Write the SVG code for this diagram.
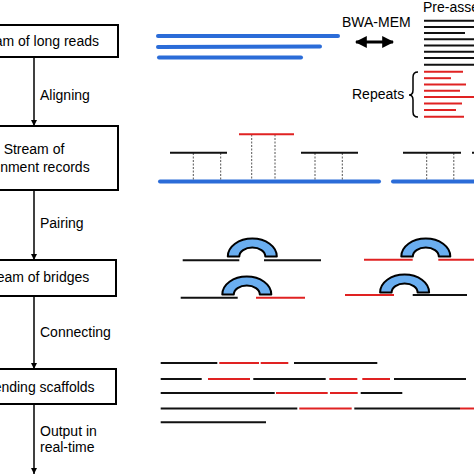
<svg xmlns="http://www.w3.org/2000/svg" width="474" height="474" viewBox="0 0 474 474">
<defs>
<style>
.box{fill:#fff;stroke:#000;stroke-width:2}
.lbl{font-family:"Liberation Sans",Arial,sans-serif;font-size:14px;fill:#000}
.flow{stroke:#000;stroke-width:1.5;fill:none}
.read{stroke:#2b6cd8;stroke-width:4;stroke-linecap:round;fill:none}
.blk{stroke:#111;stroke-width:2;fill:none}
.red{stroke:#e02222;stroke-width:2;fill:none}
.dash{stroke:#555;stroke-width:1;stroke-dasharray:2 1.5;fill:none}
.bridge{fill:#6aaef0;stroke:#000;stroke-width:2;stroke-linejoin:round}
</style>
<marker id="ah" viewBox="0 0 10 10" refX="10" refY="5" markerWidth="6" markerHeight="6" orient="auto" markerUnits="userSpaceOnUse">
<path d="M0,0 L10,5 L0,10 Z" fill="#000"/>
</marker>
<marker id="bh" viewBox="0 0 10 10" refX="9" refY="5" markerWidth="4" markerHeight="4" orient="auto-start-reverse">
<path d="M0,0 L10,5 L0,10 Z" fill="#000"/>
</marker>
</defs>
<rect width="474" height="474" fill="#fff"/>

<g id="connectors">
<line class="flow" x1="34" y1="57" x2="34" y2="126" marker-end="url(#ah)"/>
<line class="flow" x1="34" y1="190" x2="34" y2="260" marker-end="url(#ah)"/>
<line class="flow" x1="34" y1="296" x2="34" y2="369" marker-end="url(#ah)"/>
<line class="flow" x1="34" y1="404" x2="34" y2="474" marker-end="url(#ah)"/>
<text class="lbl" x="40" y="100">Aligning</text>
<text class="lbl" x="40" y="228">Pairing</text>
<text class="lbl" x="40" y="337">Connecting</text>
<text class="lbl" x="40" y="436">Output in</text>
<text class="lbl" x="40" y="452">real-time</text>
</g>

<g id="node-long-reads">
<rect class="box" x="-60" y="25" width="178" height="32"/>
<text class="lbl" x="34" y="46" text-anchor="middle">Stream of long reads</text>
</g>
<g id="node-alignment-records">
<rect class="box" x="-60" y="126" width="178" height="64"/>
<text class="lbl" x="34" y="154" text-anchor="middle">Stream of</text>
<text class="lbl" x="34" y="172" text-anchor="middle">alignment records</text>
</g>
<g id="node-bridges">
<rect class="box" x="-60" y="260" width="176" height="36"/>
<text class="lbl" x="34" y="282" text-anchor="middle">Stream of bridges</text>
</g>
<g id="node-scaffolds">
<rect class="box" x="-60" y="369" width="176" height="35"/>
<text class="lbl" x="34" y="392" text-anchor="middle">Extending scaffolds</text>
</g>

<g id="reads">
<line class="read" x1="158" y1="36" x2="338" y2="36"/>
<line class="read" x1="158" y1="47" x2="320" y2="46.5"/>
<line class="read" x1="159" y1="57.5" x2="301" y2="57.5"/>
</g>

<g id="bwa">
<text class="lbl" x="342" y="27">BWA-MEM</text>
<line x1="356" y1="42" x2="393" y2="42" stroke="#000" stroke-width="3" marker-start="url(#bh)" marker-end="url(#bh)"/>
</g>

<g id="pre-assembled">
<text class="lbl" x="423" y="12">Pre-assembled</text>
<line class="blk" x1="424" y1="20.7" x2="474" y2="20.7"/>
<line class="blk" x1="424" y1="26.9" x2="474" y2="26.9"/>
<line class="blk" x1="424" y1="33.1" x2="465" y2="33.1"/>
<line class="blk" x1="424" y1="39.3" x2="474" y2="39.3"/>
<line class="blk" x1="424" y1="45.5" x2="474" y2="45.5"/>
<line class="blk" x1="424" y1="51.7" x2="474" y2="51.7"/>
<line class="blk" x1="424" y1="57.9" x2="474" y2="57.9"/>
<line class="blk" x1="424" y1="64.8" x2="474" y2="64.8"/>
<line class="red" x1="424" y1="71.7" x2="463" y2="71.7"/>
<line class="red" x1="424" y1="78.2" x2="451" y2="78.2"/>
<line class="red" x1="424" y1="84.5" x2="466" y2="84.5"/>
<line class="red" x1="424" y1="90.8" x2="460" y2="90.8"/>
<line class="red" x1="424" y1="97.1" x2="474" y2="97.1"/>
<line class="red" x1="424" y1="103.4" x2="462" y2="103.4"/>
<line class="red" x1="424" y1="110" x2="456" y2="110"/>
<line class="red" x1="424" y1="116.7" x2="464" y2="116.7"/>
<text class="lbl" x="352" y="99">Repeats</text>
<path d="M418,72 Q413,72 413,77 L413,90 Q413,95 409,95 Q413,95 413,100 L413,112 Q413,117 418,117" fill="none" stroke="#000" stroke-width="1.5"/>
</g>

<g id="alignments">
<line class="read" x1="160" y1="181.5" x2="379" y2="181.5"/>
<line class="read" x1="393" y1="181.5" x2="480" y2="181.5"/>
<line class="dash" x1="193.3" y1="153" x2="193.3" y2="180"/>
<line class="dash" x1="220.7" y1="153" x2="220.7" y2="180"/>
<line class="dash" x1="251.7" y1="134.5" x2="251.7" y2="180"/>
<line class="dash" x1="275" y1="134.5" x2="275" y2="180"/>
<line class="dash" x1="315" y1="153" x2="315" y2="180"/>
<line class="dash" x1="342.3" y1="153" x2="342.3" y2="180"/>
<line class="dash" x1="426.7" y1="153" x2="426.7" y2="180"/>
<line class="dash" x1="453.8" y1="153" x2="453.8" y2="180"/>
<line class="blk" x1="170" y1="152.7" x2="227" y2="152.7"/>
<line class="red" x1="239" y1="134.3" x2="294" y2="134.3"/>
<line class="blk" x1="301" y1="152.7" x2="358" y2="152.7"/>
<line class="blk" x1="403" y1="152.7" x2="461" y2="152.7"/>
<line class="blk" x1="472" y1="152.7" x2="476" y2="152.7"/>
</g>

<g id="bridges">
<line class="blk" x1="182.7" y1="260.3" x2="239.3" y2="260.3"/>
<line class="blk" x1="264" y1="260.3" x2="321" y2="260.3"/>
<line class="blk" x1="180.7" y1="297.7" x2="237.7" y2="297.7"/>
<line class="red" x1="256" y1="297.7" x2="305" y2="297.7"/>
<line class="red" x1="364" y1="259.7" x2="412.7" y2="259.7"/>
<line class="red" x1="438.3" y1="259.7" x2="476" y2="259.7"/>
<line class="red" x1="345" y1="295" x2="394" y2="295"/>
<line class="blk" x1="412.7" y1="295" x2="467" y2="295"/>
<path class="bridge" d="M227.8,256.5 A24.5,18 0 0 1 276.8,256.5 L265.3,256.5 A13,9 0 0 0 239.3,256.5 Z"/>
<path class="bridge" d="M222.3,294.5 A24.5,18 0 0 1 271.3,294.5 L259.8,294.5 A13,9 0 0 0 233.8,294.5 Z"/>
<path class="bridge" d="M401.3,256.5 A24.5,18 0 0 1 450.3,256.5 L438.8,256.5 A13,9 0 0 0 412.8,256.5 Z"/>
<path class="bridge" d="M380.1,292.5 A24.5,18 0 0 1 429.1,292.5 L417.6,292.5 A13,9 0 0 0 391.6,292.5 Z"/>
</g>

<g id="scaffolds">
<line class="blk" x1="160.7" y1="363" x2="217.3" y2="363"/>
<line class="red" x1="219.3" y1="363" x2="259" y2="363"/>
<line class="red" x1="260.7" y1="363" x2="288.3" y2="363"/>
<line class="blk" x1="294" y1="363" x2="377.3" y2="363"/>
<line class="blk" x1="160.7" y1="379" x2="201.7" y2="379"/>
<line class="red" x1="208" y1="379" x2="250" y2="379"/>
<line class="blk" x1="253.3" y1="379" x2="325.7" y2="379"/>
<line class="red" x1="329.3" y1="379" x2="357.3" y2="379"/>
<line class="red" x1="362.3" y1="379" x2="390" y2="379"/>
<line class="blk" x1="394" y1="379" x2="466" y2="379"/>
<line class="blk" x1="160.7" y1="393" x2="274.7" y2="393"/>
<line class="red" x1="276" y1="393" x2="327.7" y2="393"/>
<line class="red" x1="330" y1="393" x2="357.7" y2="393"/>
<line class="blk" x1="360.7" y1="393" x2="402.3" y2="393"/>
<line class="blk" x1="160.7" y1="408.5" x2="297.3" y2="408.5"/>
<line class="red" x1="299.3" y1="408.5" x2="351.7" y2="408.5"/>
<line class="blk" x1="354.3" y1="408.5" x2="460" y2="408.5"/>
<line class="red" x1="460" y1="408.5" x2="476" y2="408.5"/>
<line class="blk" x1="160.7" y1="422.3" x2="266" y2="422.3"/>
</g>
</svg>
